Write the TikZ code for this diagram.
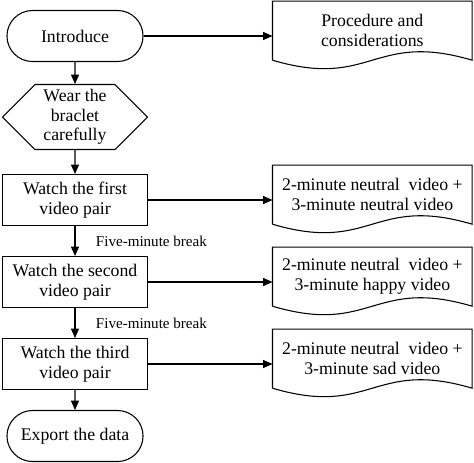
\documentclass[tikz,border=0pt]{standalone}
\usepackage{fontspec}
\setmainfont{Liberation Serif}
\usetikzlibrary{positioning, shapes.misc, shapes.symbols, arrows.meta}

\begin{document}
\begin{tikzpicture}[line width=0.8pt, >={Triangle[length=7pt,width=6pt]},
	terminal/.style = {draw, rounded rectangle, minimum width=108.75pt, minimum height=38.25pt, font=\fontsize{13.3}{15}\selectfont},
	process/.style = {draw, rectangle, minimum width=108.75pt, minimum height=38.25pt, align=center, font=\fontsize{13.3}{15}\selectfont},
	prep/.style = {draw, signal, signal to=east and west, signal pointer angle=90, minimum width=108.75pt, minimum height=48.75pt, inner sep=1pt, align=center, font=\fontsize{13.3}{14.5}\selectfont},
	docu/.style = {minimum width=149pt, minimum height=43.5pt, align=center, font=\fontsize{13.3}{15}\selectfont},
	brk/.style = {font=\fontsize{11.3}{12}\selectfont}]

		\useasboundingbox (0,0) rectangle (355.5pt,-346.5pt);

		\node[terminal] (intro) at (56.25pt,-27pt) {Introduce};
		\node[prep] (wear) [below of=intro, node distance=60.75pt] {Wear the\\braclet\\carefully};
		\node[process] (first) [below of=wear, node distance=62.25pt] {Watch the first\\video pair};
		\node[process] (second) [below of=first, node distance=61.5pt] {Watch the second\\video pair};
		\node[process] (third) [below of=second, node distance=61.5pt] {Watch the third\\video pair};
		\node[terminal] (export) [below of=third, node distance=54pt] {Export the data};

		\node[docu] (proc) [right of=intro, node distance=223pt, yshift=4pt] {Procedure and\\considerations};
		\node[docu] (pairA) [right of=first, node distance=223pt, yshift=4pt] {2-minute neutral\ \ video +\\3-minute neutral video};
		\node[docu] (pairB) [right of=second, node distance=223pt, yshift=4pt] {2-minute neutral\ \ video +\\3-minute happy video};
		\node[docu] (pairC) [right of=third, node distance=223pt, yshift=4pt] {2-minute neutral\ \ video +\\3-minute sad video};

		% document outlines
		\foreach \d in {proc, pairA, pairB, pairC}
			\draw (\d.south west) -- (\d.north west) -- (\d.north east) -- (\d.south east)
				.. controls ([xshift=-74.5pt,yshift=22pt]\d.south east) and ([xshift=74.5pt,yshift=-22pt]\d.south west) .. (\d.south west);

		\draw[->] (intro) -- (wear);
		\draw[->] (wear) -- (first);
		\draw[->] (first) -- node[brk, right=12pt] {Five-minute break} (second);
		\draw[->] (second) -- node[brk, right=12pt] {Five-minute break} (third);
		\draw[->] (third) -- (export);

		\draw[->] (intro.east) -- (intro.east -| proc.west);
		\draw[->] (first.east) -- (first.east -| pairA.west);
		\draw[->] (second.east) -- (second.east -| pairB.west);
		\draw[->] (third.east) -- (third.east -| pairC.west);

\end{tikzpicture}
\end{document}
